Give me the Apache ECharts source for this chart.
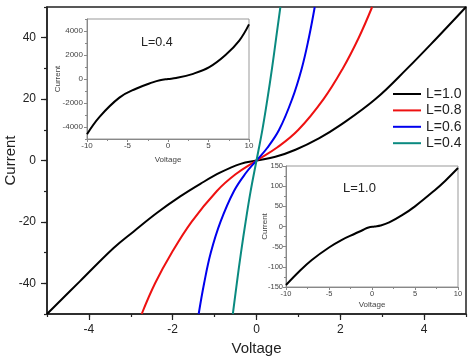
<!DOCTYPE html>
<html><head><meta charset="utf-8">
<script src="https://cdn.jsdelivr.net/npm/echarts@6/dist/echarts.min.js"></script>
<style>html,body{margin:0;padding:0;background:#fff}#c{width:474px;height:362px}</style>
</head><body><div id="c"></div>
<script>
// ---- data ----
const seriesNames = ['L=1.0', 'L=0.8', 'L=0.6', 'L=0.4'];
const v10 = [-5, -4.21, -3.41, -2.93, -2.38, -1.82, -1.34, -0.86, -0.38, 0, 0.45, 0.93, 1.5, 2.0, 2.84, 3.6, 4.31, 5];
const i10 = [-50, -39.3, -28.5, -23.1, -17.1, -11.7, -7.6, -3.9, -1.1, 0, 1.2, 3.5, 7.3, 11.5, 20, 30, 40, 50];
const v08 = [-2.74, -2.42, -2.02, -1.55, -0.95, -0.5, 0, 0.5, 1.0, 1.6, 2.06, 2.44, 2.76];
const i08 = [-50, -40, -30, -20, -10, -4.5, 0, 4.3, 10, 20, 30, 40, 50];
const v06 = [-1.38, -1.25, -1.09, -0.86, -0.54, -0.25, 0, 0.25, 0.54, 0.85, 1.08, 1.25, 1.39];
const i06 = [-50, -40, -30, -20, -10, -4, 0, 4, 10, 20, 30, 40, 50];
const v04 = [-0.565, -0.47, -0.37, -0.26, -0.14, 0, 0.14, 0.26, 0.37, 0.47, 0.57];
const i04 = [-50, -40, -30, -20, -10, 0, 10, 20, 30, 40, 50];
// inset L=0.4
const insA_V = [-10, -8.45, -6, -3.95, -1.9, -1, 0, 1, 3, 5.1, 7.1, 8.8, 10];
const insA_I = [-4600, -3150, -1550, -810, -280, -100, 0, 80, 410, 990, 2000, 3200, 4550];
// inset L=1.0
const insB_V = [-10, -8.5, -7, -5, -3.5, -2, -1, -0.4, 0.3, 1, 2, 3.5, 5, 7.3, 8.5, 10];
const insB_I = [-145, -112, -83, -52, -33, -18, -8, -2.5, 0, 2.5, 10, 28, 50, 90, 113, 145];
// tick labels
const mainXTicks = [-4, -2, 0, 2, 4];
const mainYTicks = [-40, -20, 0, 20, 40];
const insAYTicks = [-4000, -2000, 0, 2000, 4000];

const zip = (a, b) => a.map((x, k) => [x, b[k]]);
const FONT = 'Liberation Sans, Arial, sans-serif';
const colors = ['#000000', '#ee1111', '#0000ee', '#0a8a80'];
const plain = v => String(v);

const chart = echarts.init(document.getElementById('c'), null, {renderer: 'canvas'});

const inX = (grid, gap, fs) => ({
  gridIndex: grid, type: 'value', min: -10, max: 10, interval: 5, position: 'bottom',
  axisLine: {show: true, onZero: false, lineStyle: {color: '#888', width: 1}},
  axisTick: {show: true, length: 3, lineStyle: {color: '#888'}},
  minorTick: {show: true, splitNumber: 2, length: 2, lineStyle: {color: '#888'}},
  axisLabel: {fontSize: fs, color: '#444', margin: 3, fontFamily: FONT, formatter: plain},
  splitLine: {show: false},
  name: 'Voltage', nameLocation: 'middle', nameGap: gap, nameMoveOverlap: false,
  nameTextStyle: {fontSize: 8, color: '#444', fontFamily: FONT}
});

const option = {
  animation: false,
  backgroundColor: '#fff',
  grid: [
    {left: 47, top: 7, width: 419, height: 307, show: true, borderColor: '#222', borderWidth: 1.5, outerBoundsMode: 'none', containLabel: false},
    {left: 87, top: 19, width: 162, height: 120, show: true, backgroundColor: '#fff', borderColor: '#999', borderWidth: 1, outerBoundsMode: 'none', containLabel: false},
    {left: 286, top: 166, width: 172, height: 121, show: true, backgroundColor: '#fff', borderColor: '#999', borderWidth: 1, outerBoundsMode: 'none', containLabel: false}
  ],
  xAxis: [
    {gridIndex: 0, type: 'value', min: -5, max: 5, interval: 1, position: 'bottom',
     axisLine: {show: true, onZero: false, lineStyle: {color: '#222', width: 1.5}},
     axisTick: {show: true, length: 6, customValues: mainXTicks, lineStyle: {color: '#222', width: 1.2}},
     axisLabel: {customValues: mainXTicks, fontSize: 12, color: '#222', margin: 10, fontFamily: FONT},
     splitLine: {show: false},
     name: 'Voltage', nameLocation: 'middle', nameGap: 27, nameMoveOverlap: false,
     nameTextStyle: {fontSize: 15, color: '#222', fontFamily: FONT}},
    {gridIndex: 0, type: 'value', min: -5, max: 5, interval: 1, position: 'bottom',
     axisLine: {show: false, onZero: false}, axisTick: {show: true, length: 3, lineStyle: {color: '#222', width: 1.2}},
     axisLabel: {show: false}, splitLine: {show: false}},
    inX(1, 17, 8),
    inX(2, 14, 7.5)
  ],
  yAxis: [
    {gridIndex: 0, type: 'value', min: -50, max: 50, interval: 10, position: 'left',
     axisLine: {show: true, onZero: false, lineStyle: {color: '#222', width: 1.5}},
     axisTick: {show: true, length: 6, customValues: mainYTicks, lineStyle: {color: '#222', width: 1.2}},
     axisLabel: {customValues: mainYTicks, fontSize: 12, color: '#222', margin: 11, fontFamily: FONT},
     splitLine: {show: false},
     name: 'Current', nameLocation: 'middle', nameGap: 29, nameMoveOverlap: false,
     nameTextStyle: {fontSize: 15, color: '#222', fontFamily: FONT}},
    {gridIndex: 0, type: 'value', min: -50, max: 50, interval: 10, position: 'left',
     axisLine: {show: false, onZero: false}, axisTick: {show: true, length: 3, lineStyle: {color: '#222', width: 1.2}},
     axisLabel: {show: false}, splitLine: {show: false}},
    {gridIndex: 1, type: 'value', min: -5000, max: 5000, interval: 1000, position: 'left',
     axisLine: {show: true, onZero: false, lineStyle: {color: '#888', width: 1}},
     axisTick: {show: true, length: 3, customValues: insAYTicks, lineStyle: {color: '#888'}},
     axisLabel: {customValues: insAYTicks, fontSize: 8, color: '#444', margin: 4, fontFamily: FONT, formatter: plain},
     splitLine: {show: false},
     name: 'Current', nameLocation: 'middle', nameGap: 25, nameMoveOverlap: false,
     nameTextStyle: {fontSize: 8, color: '#444', fontFamily: FONT}},
    {gridIndex: 1, type: 'value', min: -5000, max: 5000, interval: 1000, position: 'left',
     axisLine: {show: false, onZero: false}, axisTick: {show: true, length: 2, lineStyle: {color: '#888'}},
     axisLabel: {show: false}, splitLine: {show: false}},
    {gridIndex: 2, type: 'value', min: -150, max: 150, interval: 50, position: 'left',
     axisLine: {show: true, onZero: false, lineStyle: {color: '#888', width: 1}},
     axisTick: {show: true, length: 3, lineStyle: {color: '#888'}},
     minorTick: {show: true, splitNumber: 2, length: 2, lineStyle: {color: '#888'}},
     axisLabel: {fontSize: 7.5, color: '#444', margin: 3, fontFamily: FONT, formatter: plain},
     splitLine: {show: false},
     name: 'Current', nameLocation: 'middle', nameGap: 17, nameMoveOverlap: false,
     nameTextStyle: {fontSize: 8, color: '#444', fontFamily: FONT}}
  ],
  legend: {
    data: seriesNames, orient: 'vertical', left: 393, top: 86, padding: 0,
    icon: 'rect', itemWidth: 28, itemHeight: 2, itemGap: 0.4,
    textStyle: {fontSize: 14, lineHeight: 16, color: '#222', fontFamily: FONT}
  },
  graphic: [
    {type: 'text', left: 141, top: 36, style: {text: 'L=0.4', fontSize: 12.5, fill: '#222', fontFamily: FONT}},
    {type: 'text', left: 343, top: 182, style: {text: 'L=1.0', fontSize: 13, fill: '#222', fontFamily: FONT}}
  ],
  series: [
    {name: seriesNames[0], data: zip(v10, i10), color: colors[0]},
    {name: seriesNames[1], data: zip(v08, i08), color: colors[1]},
    {name: seriesNames[2], data: zip(v06, i06), color: colors[2]},
    {name: seriesNames[3], data: zip(v04, i04), color: colors[3]}
  ].map(s => Object.assign(s, {type: 'line', xAxisIndex: 0, yAxisIndex: 0, symbol: 'none', showSymbol: false,
    smooth: 0.4, clip: true, lineStyle: {width: 2, color: s.color}, itemStyle: {color: s.color}}))
  .concat([
    {type: 'line', xAxisIndex: 2, yAxisIndex: 2, data: zip(insA_V, insA_I), symbol: 'none', smooth: 0.4,
     lineStyle: {width: 2, color: '#000'}, z: 5},
    {type: 'line', xAxisIndex: 3, yAxisIndex: 4, data: zip(insB_V, insB_I), symbol: 'none', smooth: 0.4,
     lineStyle: {width: 2, color: '#000'}, z: 5}
  ])
};
chart.setOption(option);
</script>
</body></html>
